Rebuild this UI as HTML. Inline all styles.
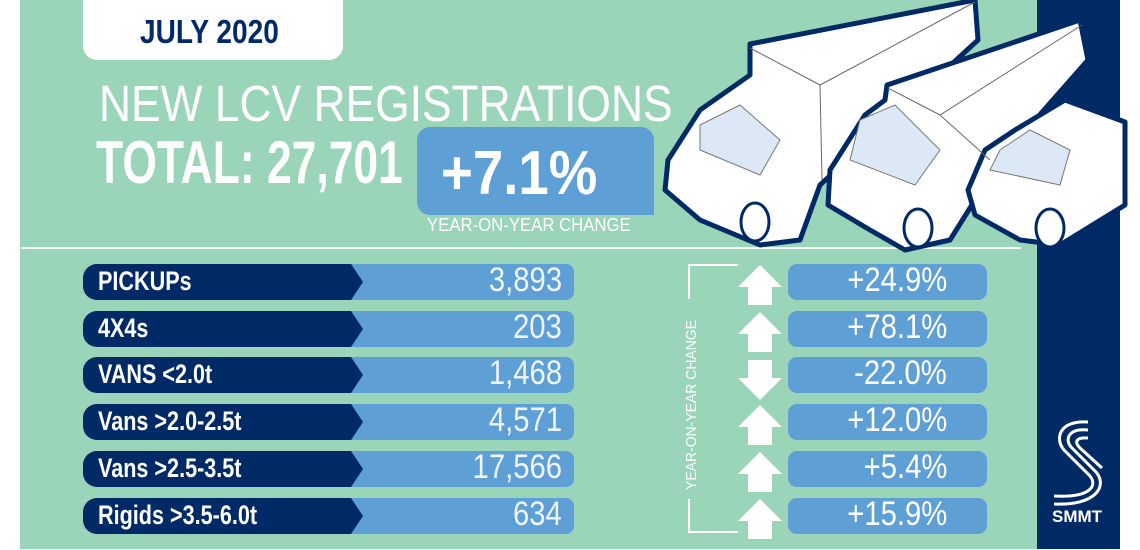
<!DOCTYPE html>
<html><head><meta charset="utf-8"><style>
*{margin:0;padding:0;box-sizing:border-box}
body{width:1140px;height:550px;background:#fff;position:relative;overflow:hidden;font-family:"Liberation Sans",sans-serif}
.a{position:absolute}
.mint{left:20px;top:0;width:1017px;height:549px;background:#9ad5b9}
.navy{left:1037px;top:0;width:83px;height:549px;background:#002a66}
.row{left:83px;width:491px;height:36px;border-radius:14px 8px 8px 14px;background:#5e9fd6;overflow:hidden}
.row .dk{position:absolute;left:0;top:0;height:36px;width:280px;background:#002a66;clip-path:polygon(0 0,268px 0,280px 18px,268px 36px,0 36px)}
.row .lb{position:absolute;left:15px;top:2px;color:#fff;font-weight:bold;font-size:27px;transform:scaleX(.8);transform-origin:left;white-space:nowrap}
.row .v{position:absolute;right:12px;top:-3px;color:#eef5ff;font-size:34px;transform:scaleX(.86);transform-origin:right}
.pc{left:788px;width:199px;height:36px;border-radius:9px;background:#5e9fd6}
.pc span{position:absolute;right:40px;top:-3px;color:#fff;font-size:34px;transform:scaleX(.86);transform-origin:right}
</style></head><body>
<div class="a mint"></div>
<div class="a navy"></div>
<div class="a" style="left:83px;top:0;width:260px;height:60px;background:#fff;border-radius:0 0 14px 14px"></div>
<div class="a" style="left:140px;top:13px;color:#002a66;font-weight:bold;font-size:33px;transform:scaleX(.85);transform-origin:left;white-space:nowrap">JULY 2020</div>
<div class="a" style="left:99px;top:74px;color:#fff;font-size:51px;transform:scaleX(.87);transform-origin:left;white-space:nowrap">NEW LCV REGISTRATIONS</div>
<div class="a" style="left:96px;top:128px;color:#fff;font-weight:bold;font-size:60px;transform:scaleX(.74);transform-origin:left;white-space:nowrap">TOTAL: 27,701</div>
<div class="a" style="left:417px;top:127px;width:237px;height:88px;background:#5e9fd6;border-radius:13px 13px 0 13px"></div>
<div class="a" style="left:441px;top:138px;color:#fff;font-weight:bold;font-size:62px;transform:scaleX(.88);transform-origin:left;white-space:nowrap">+7.1%</div>
<div class="a" style="left:427px;top:215px;color:#fff;font-size:18px;transform:scaleX(.93);transform-origin:left;white-space:nowrap">YEAR-ON-YEAR CHANGE</div>
<div class="a" style="left:21px;top:247px;width:1000px;height:2px;background:#f3fbf7"></div>

<svg class="a" style="left:0;top:0" width="1140" height="260">
<g stroke="#002a66" stroke-width="5" stroke-linejoin="round" fill="#fff">
<polygon points="750,44 975,0 978,40 820,185 800,240 760,245 700,220 665,190 668,160 700,110 750,75"/>
<polygon points="887,85 1080,20 1088,60 1000,160 950,240 905,250 870,230 828,205 830,170 865,115 885,100"/>
<polygon points="1015,130 1065,100 1125,122 1125,205 1060,245 1020,240 975,215 968,190 985,150"/>
</g>
<g stroke="#666" stroke-width="1" fill="none">
<polyline points="750,48 820,85 975,2"/><line x1="820" y1="85" x2="822" y2="180"/>
<polyline points="888,88 940,115 1082,25"/><line x1="940" y1="115" x2="990" y2="160"/>
</g>
<g fill="#dce8f5" stroke="#777" stroke-width="1">
<polygon points="700,125 740,105 780,140 760,175 700,150"/>
<polygon points="860,120 895,105 940,150 915,185 850,160"/>
<polygon points="1000,150 1030,130 1070,150 1060,185 990,170"/>
</g>
<g fill="#fff" stroke="#002a66" stroke-width="3">
<ellipse cx="755" cy="222" rx="14" ry="19"/><ellipse cx="918" cy="228" rx="14" ry="19"/><ellipse cx="1050" cy="228" rx="14" ry="19"/>
</g>
</svg>

<div class="a row" style="top:264px"><div class="dk"></div><div class="lb">PICKUPs</div><div class="v">3,893</div></div>
<div class="a row" style="top:311px"><div class="dk"></div><div class="lb">4X4s</div><div class="v">203</div></div>
<div class="a row" style="top:357px"><div class="dk"></div><div class="lb">VANS &lt;2.0t</div><div class="v">1,468</div></div>
<div class="a row" style="top:404px"><div class="dk"></div><div class="lb">Vans &gt;2.0-2.5t</div><div class="v">4,571</div></div>
<div class="a row" style="top:451px"><div class="dk"></div><div class="lb">Vans &gt;2.5-3.5t</div><div class="v">17,566</div></div>
<div class="a row" style="top:498px"><div class="dk"></div><div class="lb">Rigids &gt;3.5-6.0t</div><div class="v">634</div></div>

<svg class="a" style="left:680px;top:255px" width="110" height="290">
<g fill="none" stroke="#fff" stroke-width="2">
<polyline points="58,10 9,10 9,44"/><polyline points="58,277 9,277 9,244"/>
</g>
<g fill="#fff">
<path d="M80,10 L102,32 L92,32 L92,50 L68,50 L68,32 L58,32Z"/>
<path d="M80,57 L102,79 L92,79 L92,97 L68,97 L68,79 L58,79Z"/>
<path d="M80,145 L102,123 L92,123 L92,105 L68,105 L68,123 L58,123Z"/>
<path d="M80,150 L102,172 L92,172 L92,190 L68,190 L68,172 L58,172Z"/>
<path d="M80,197 L102,219 L92,219 L92,237 L68,237 L68,219 L58,219Z"/>
<path d="M80,244 L102,266 L92,266 L92,284 L68,284 L68,266 L58,266Z"/>
</g>
<text transform="translate(16,490) rotate(-90)" x="0" y="0" fill="#fff" font-size="15" font-family="Liberation Sans" textLength="170" lengthAdjust="spacingAndGlyphs" dx="255">YEAR-ON-YEAR CHANGE</text>
</svg>

<div class="a pc" style="top:264px"><span>+24.9%</span></div>
<div class="a pc" style="top:311px"><span>+78.1%</span></div>
<div class="a pc" style="top:357px"><span>-22.0%</span></div>
<div class="a pc" style="top:404px"><span>+12.0%</span></div>
<div class="a pc" style="top:451px"><span>+5.4%</span></div>
<div class="a pc" style="top:498px"><span>+15.9%</span></div>

<svg class="a" style="left:1050px;top:418px" width="60" height="90">
<g fill="none" stroke="#fff" stroke-width="3">
<path d="M38,4 C10,2 4,20 14,32 L40,58 C48,68 40,80 4,78"/>
<path d="M38,12 C18,10 14,22 22,30 L46,54 C58,68 46,88 4,86"/>
<path d="M38,20 C26,19 24,24 30,30 L52,50"/>
</g>
</svg>
<div class="a" style="left:1052px;top:507px;color:#fff;font-weight:bold;font-size:17px">SMMT</div>
</body></html>
